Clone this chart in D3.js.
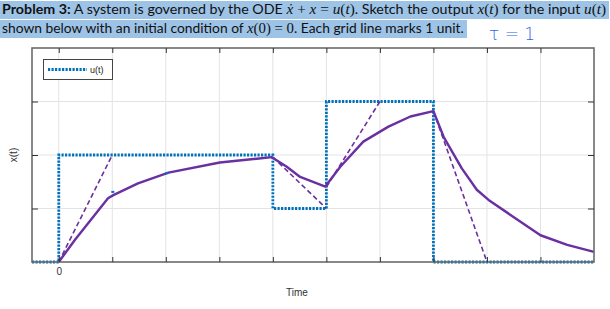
<!DOCTYPE html>
<html>
<head>
<meta charset="utf-8">
<script src="https://cdn.jsdelivr.net/npm/d3@7"></script>
<style>
  body { margin: 0; background: #fff; }
  svg { display: block; }
</style>
</head>
<body>
<script>
// input u(t), a piecewise constant signal
const inputT = [-0.5, 0, 0, 4, 4, 5, 5, 7, 7, 10];
const inputU = [0, 0, 2, 2, 1, 1, 3, 3, 0, 0];

// sketched output x(t)
const outT = [0, 0.30, 0.92, 1.02, 1.48, 2.05, 3.01, 3.70, 3.98, 4.26, 4.51, 4.98, 5.26, 5.69, 6.16, 6.57, 7.0, 7.19, 7.53, 7.81, 8.03, 8.44, 9.0, 9.5, 10];
const outX = [0, 0.41, 1.19, 1.25, 1.47, 1.67, 1.86, 1.93, 1.96, 1.78, 1.59, 1.41, 1.78, 2.25, 2.53, 2.72, 2.82, 2.34, 1.75, 1.35, 1.16, 0.88, 0.50, 0.32, 0.19];

// dashed tangent lines (one time constant long)
const tanT0 = [0, 4, 5, 7];
const tanX0 = [0, 1.96, 1.40, 2.82];
const tanT1 = [1, 5, 6, 8];
const tanX1 = [2, 1.0, 3.0, 0];

// little blue marks on the curve
const markT = [1.01, 2.02];
const markX = [1.31, 1.66];

const xTicks = [0, 1, 2, 3, 4, 5, 6, 7, 8, 9];
const yTicks = [1, 2, 3];

var width = 610, height = 309;
var blue = "#0072BD", purple = "#6A2FA0";

var svg = d3.select("body").append("svg")
  .attr("width", width)
  .attr("height", height);

// ---- problem statement ----
var hl = "#9DC3E6";
svg.append("rect").attr("x", 0).attr("y", 1).attr("width", 609).attr("height", 18).attr("fill", hl);
svg.append("rect").attr("x", 0).attr("y", 20).attr("width", 467).attr("height", 18).attr("fill", hl);

function line(parts, x0, base, target) {
  var t = svg.append("text")
    .attr("font-family", "Lato, 'Open Sans', sans-serif")
    .attr("font-size", 14)
    .attr("fill", "#111");
  parts.forEach(p => {
    var s = t.append("tspan").text(p[0]);
    if (p[1] == "b") s.attr("font-weight", "bold");
    if (p[1] == "m") s.attr("font-family", "'Liberation Serif', serif").attr("font-size", 15);
    if (p[1] == "mi") s.attr("font-family", "'Liberation Serif', serif").attr("font-style", "italic").attr("font-size", 15);
  });
  var w = t.node().getComputedTextLength();
  t.attr("transform", `translate(${x0},${base}) scale(${target / w},1)`);
}

line([
  ["Problem 3:", "b"], [" A system is governed by the ODE  "],
  ["ẋ", "mi"], [" + ", "m"], ["x", "mi"], [" = ", "m"], ["u", "mi"], ["(", "m"], ["t", "mi"], [")", "m"],
  [". Sketch the output "], ["x", "mi"], ["(", "m"], ["t", "mi"], [")", "m"],
  [" for the input "], ["u", "mi"], ["(", "m"], ["t", "mi"], [")", "m"]
], 2, 14, 605);

line([
  ["shown below with an initial condition of "],
  ["x", "mi"], ["(0) = 0", "m"], [". Each grid line marks 1 unit."]
], 2, 33, 462);

// handwritten note
svg.append("text")
  .attr("x", 489).attr("y", 40)
  .attr("font-family", "'DejaVu Sans', sans-serif")
  .attr("font-weight", 200)
  .attr("font-size", 17)
  .attr("fill", "#2a66e0")
  .text("τ = 1");

// ---- chart ----
var x = d3.scaleLinear().domain([-0.5, 10]).range([32, 594]);
var y = d3.scaleLinear().domain([0, 4]).range([262, 48]);

var g = svg.append("g");

g.append("rect")
  .attr("x", x(-0.5)).attr("y", y(4))
  .attr("width", x(10) - x(-0.5)).attr("height", y(0) - y(4))
  .attr("fill", "#fff");

// grid
g.append("g").selectAll("line").data(xTicks).enter().append("line")
  .attr("x1", d => x(d)).attr("x2", d => x(d))
  .attr("y1", y(0)).attr("y2", y(4))
  .attr("stroke", "#e3e3e3").attr("stroke-width", 1);
g.append("g").selectAll("line").data(yTicks).enter().append("line")
  .attr("x1", x(-0.5)).attr("x2", x(10))
  .attr("y1", d => y(d)).attr("y2", d => y(d))
  .attr("stroke", "#e3e3e3").attr("stroke-width", 1);

// input
var uLine = d3.line().x((d, i) => x(inputT[i])).y((d, i) => y(d));
g.append("path")
  .datum(inputU)
  .attr("d", uLine)
  .attr("fill", "none")
  .attr("stroke", blue)
  .attr("stroke-width", 2.8)
  .attr("stroke-dasharray", "2.2,1.3");

// tangents
g.append("g").selectAll("line").data(tanT0).enter().append("line")
  .attr("x1", (d, i) => x(d)).attr("y1", (d, i) => y(tanX0[i]))
  .attr("x2", (d, i) => x(tanT1[i])).attr("y2", (d, i) => y(tanX1[i]))
  .attr("stroke", purple)
  .attr("stroke-width", 1.6)
  .attr("stroke-dasharray", "5,3");

// output
var xLine = d3.line().x((d, i) => x(outT[i])).y(d => y(d));
g.append("path")
  .datum(outX)
  .attr("d", xLine)
  .attr("fill", "none")
  .attr("stroke", purple)
  .attr("stroke-width", 2.4)
  .attr("stroke-linejoin", "round");

g.append("g").selectAll("rect").data(markT).enter().append("rect")
  .attr("x", d => x(d) - 1.5).attr("y", (d, i) => y(markX[i]) - 1)
  .attr("width", 3).attr("height", 2)
  .attr("fill", blue);

// frame + ticks
g.append("rect")
  .attr("x", x(-0.5)).attr("y", y(4))
  .attr("width", x(10) - x(-0.5)).attr("height", y(0) - y(4))
  .attr("fill", "none")
  .attr("stroke", "#6b6b6b")
  .attr("stroke-width", 1.6);

function styleAxis(sel) {
  sel.select(".domain").remove();
  sel.selectAll(".tick line").attr("stroke", "#333").attr("stroke-width", 1);
  sel.selectAll(".tick text").attr("fill", "#333")
    .attr("font-family", "'Liberation Sans', Arial, sans-serif").attr("font-size", 10);
}

g.append("g").attr("transform", `translate(0,${y(0)})`)
  .call(d3.axisBottom(x).tickValues(xTicks).tickSizeInner(-5).tickSizeOuter(0).tickPadding(6)
    .tickFormat(d => d === 0 ? "0" : ""))
  .call(styleAxis);
g.append("g").attr("transform", `translate(0,${y(4)})`)
  .call(d3.axisTop(x).tickValues(xTicks).tickSizeInner(-5).tickSizeOuter(0).tickFormat(""))
  .call(styleAxis);
g.append("g").attr("transform", `translate(${x(-0.5)},0)`)
  .call(d3.axisLeft(y).tickValues(yTicks).tickSizeInner(-6).tickSizeOuter(0).tickFormat(""))
  .call(styleAxis);
g.append("g").attr("transform", `translate(${x(10)},0)`)
  .call(d3.axisRight(y).tickValues(yTicks).tickSizeInner(-6).tickSizeOuter(0).tickFormat(""))
  .call(styleAxis);

// labels
g.append("text")
  .attr("x", 297).attr("y", 296)
  .attr("text-anchor", "middle")
  .attr("font-family", "'Liberation Sans', Arial, sans-serif")
  .attr("font-size", 10)
  .attr("fill", "#333")
  .text("Time");
g.append("text")
  .attr("transform", "translate(17,155) rotate(-90)")
  .attr("text-anchor", "middle")
  .attr("font-family", "'Liberation Sans', Arial, sans-serif")
  .attr("font-size", 10)
  .attr("fill", "#333")
  .text("x(t)");

// legend
var lg = g.append("g");
lg.append("rect")
  .attr("x", 43.5).attr("y", 59.5).attr("width", 69).attr("height", 20)
  .attr("fill", "#fff").attr("stroke", "#444").attr("stroke-width", 1);
lg.append("line")
  .attr("x1", 48).attr("x2", 87).attr("y1", 69.5).attr("y2", 69.5)
  .attr("stroke", blue).attr("stroke-width", 2.8).attr("stroke-dasharray", "2.2,1.3");
lg.append("text")
  .attr("x", 90).attr("y", 73)
  .attr("font-family", "'Liberation Sans', Arial, sans-serif")
  .attr("font-size", 9)
  .attr("fill", "#222")
  .text("u(t)");
</script>
</body>
</html>
